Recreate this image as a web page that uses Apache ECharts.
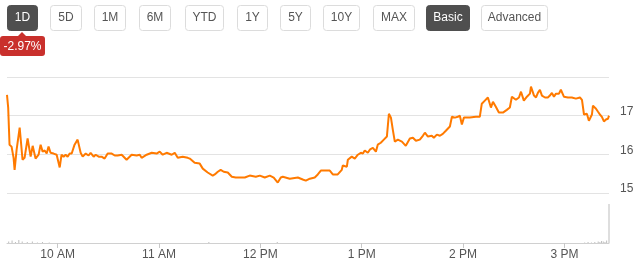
<!DOCTYPE html>
<html><head><meta charset="utf-8">
<script src="https://cdn.jsdelivr.net/npm/echarts@6/dist/echarts.min.js"></script>
<style>html,body{margin:0;padding:0;background:#fff}#c{width:640px;height:266px}</style>
</head><body><div id="c"></div>
<script>
// ---- data ----
const rangeButtons = ['1D','5D','1M','6M','YTD','1Y','5Y','10Y','MAX','Basic','Advanced'];
const activeButtons = ['1D','Basic'];
const changeLabel = '-2.97%';
const openMinute = 570;      // 9:30
const closeMinute = 926.4;   // last trade ~15:26
const hourTicks = [600,660,720,780,840,900];
const priceMin = 15, priceMax = 18, priceStep = 1;
// minutes after 9:30 open
const minutes = [0,0.7,1.5,2.7,3.9,4.5,5.7,7.5,9.2,10.4,12.2,14.0,15.2,16.9,18.7,19.9,21.1,22.3,23.5,24.6,25.8,27.6,29.4,31.2,32.3,33.5,34.7,35.9,37.1,38.3,40.0,41.8,43.6,44.8,46.6,48.3,49.5,51.3,52.5,54.3,56.0,57.8,59.6,62.0,63.8,65.5,67.9,70.8,73.8,76.8,78.6,79.7,82.7,85.7,88.6,90.4,92.2,94.5,97.5,99.3,101.1,104.0,107.0,108.2,111.1,114.1,115.9,118.8,121.8,123.0,124.8,126.5,128.3,130.7,133.1,135.4,137.8,140.8,143.7,147.3,149.7,152.6,155.6,157.9,160.3,162.1,163.3,167.4,172.2,175.1,176.9,179.3,182.2,184.0,185.8,188.1,191.1,192.9,195.8,198.2,198.8,201.2,201.8,202.9,204.1,205.9,207.7,209.5,210.7,211.8,213.6,214.8,216.6,218.4,219.5,221.3,223.1,224.9,226.1,227.3,228.4,229.6,231.4,233.8,236.1,238.5,240.3,242.1,244.4,246.2,247.4,249.2,251.5,252.7,254.5,256.3,258.0,259.8,262.2,263.4,265.2,266.9,268.1,269.3,270.5,274.0,277.6,279.9,281.1,282.9,284.7,286.5,287.7,289.4,291.2,293.6,295.9,297.7,298.9,301.3,303.1,304.3,306.0,307.8,309.6,310.2,312.0,313.2,314.3,315.5,316.7,318.5,320.2,321.4,322.6,323.8,325.0,326.8,327.9,328.5,329.7,332.1,334.4,336.8,339.2,340.4,341.6,343.3,344.5,345.1,346.3,346.9,348.7,349.9,351.0,352.2,353.4,354.6,355.8,356.4];
const prices = [17.54,17.21,16.25,16.20,15.91,15.60,16.12,16.69,15.86,15.91,16.41,15.94,16.22,15.89,15.99,16.25,16.07,16.10,16.02,16.20,16.04,16.02,15.99,15.66,15.99,15.94,15.99,15.94,16.02,16.02,16.25,16.38,16.04,15.94,16.02,15.97,16.04,15.94,15.99,15.94,15.94,15.89,16.02,16.02,15.97,15.97,15.99,15.86,15.99,15.97,15.99,15.91,15.99,16.04,16.02,16.07,15.99,16.04,15.99,16.04,15.91,15.94,15.91,15.89,15.78,15.76,15.63,15.53,15.45,15.48,15.55,15.60,15.55,15.53,15.42,15.40,15.40,15.40,15.45,15.42,15.45,15.40,15.45,15.40,15.27,15.40,15.42,15.37,15.40,15.35,15.32,15.37,15.40,15.48,15.58,15.58,15.58,15.48,15.48,15.60,15.71,15.68,15.86,15.84,15.94,15.89,15.99,16.04,16.02,16.10,16.04,16.12,16.17,16.07,16.25,16.30,16.38,16.46,17.05,16.95,16.64,16.33,16.38,16.33,16.22,16.41,16.43,16.35,16.38,16.48,16.56,16.46,16.48,16.43,16.51,16.48,16.53,16.61,16.72,16.97,16.95,16.97,17.00,16.77,16.95,16.95,16.97,16.97,17.31,17.39,17.47,17.21,17.36,17.23,17.08,17.08,17.15,17.21,17.49,17.41,17.47,17.62,17.39,17.49,17.57,17.75,17.52,17.47,17.59,17.67,17.52,17.47,17.47,17.52,17.59,17.49,17.57,17.57,17.67,17.72,17.49,17.47,17.47,17.44,17.47,17.41,17.03,17.05,16.87,16.82,17.03,17.26,17.18,17.10,17.03,16.97,16.85,16.90,16.92,17.00];
const volMinutes = [1,3,5,7,9,12,15,18,21,25,119.5,160,342,344,346,348,350,351,352,353,354,355,356.4];
const volumes = [3,5,2,6,3,2,3,1,2,1,2,2,1,2,1,2,3,2,4,3,2,5,78];

// ---- layout / style ----
const btnX = [7,50,94,139,185,237,280,323,373,426,481];
const btnW = [30,31,31,31,38,30,30,36,41,43,66];
const FONT = '"Liberation Sans", Arial, sans-serif';

const graphics = [];
rangeButtons.forEach((b, i) => {
  const active = activeButtons.includes(b);
  graphics.push({type:'rect', silent:true,
    shape:{x:btnX[i]+0.5, y:5.5, width:btnW[i], height:25, r:3},
    style:{fill: active ? '#4f4f4f' : '#fff', stroke: active ? '#4f4f4f' : '#dcdcdc', lineWidth:1}});
  graphics.push({type:'text', silent:true,
    style:{text:b, x:btnX[i]+btnW[i]/2+0.5, y:18, fill: active ? '#fff' : '#555',
      font:'12px ' + FONT, align:'center', verticalAlign:'middle'}});
});
graphics.push({type:'polygon', silent:true, shape:{points:[[17,37],[22,32],[27,37]]}, style:{fill:'#c9302c'}});
graphics.push({type:'rect', silent:true, shape:{x:0, y:36, width:45, height:20, r:3}, style:{fill:'#c9302c'}});
graphics.push({type:'text', silent:true, style:{text:changeLabel, x:22.5, y:46.5, fill:'#fff',
  font:'12px ' + FONT, align:'center', verticalAlign:'middle'}});

const chart = echarts.init(document.getElementById('c'), null, {renderer:'canvas'});
chart.setOption({
  animation:false,
  backgroundColor:'#fff',
  graphic: graphics,
  grid:[
    {left:7, right:31, top:77, height:116},
    {left:7, right:31, top:193, bottom:23}
  ],
  xAxis:[
    {type:'value', gridIndex:0, min:openMinute, max:closeMinute, show:false, splitLine:{show:false}},
    {type:'value', gridIndex:1, min:openMinute, max:closeMinute, splitLine:{show:false},
      axisLine:{show:true, lineStyle:{color:'#d0d0d0', width:1}},
      axisTick:{show:true, customValues:hourTicks, length:5, lineStyle:{color:'#c8c8c8'}},
      axisLabel:{customValues:hourTicks, color:'#555', fontSize:12, fontFamily:FONT, margin:6,
        formatter: v => { const h = Math.floor(v/60); const h12 = h > 12 ? h-12 : h; return h12 + (h >= 12 ? ' PM' : ' AM'); }}}
  ],
  yAxis:[
    {type:'value', gridIndex:0, position:'right', min:priceMin, max:priceMax, interval:priceStep,
      axisLine:{show:false}, axisTick:{show:false},
      splitLine:{show:true, lineStyle:{color:'#e3e3e3', width:1}},
      axisLabel:{color:'#555', fontSize:12, fontFamily:FONT, margin:11, align:'left', verticalAlign:'bottom',
        padding:[0,0,-2,0],
        formatter: v => v === priceMax ? '' : String(v)}},
    {type:'value', gridIndex:1, min:0, max:100, show:false, splitLine:{show:false}}
  ],
  series:[
    {type:'line', xAxisIndex:0, yAxisIndex:0, showSymbol:false, silent:true,
      data: minutes.map((m,i) => [openMinute + m, prices[i]]),
      lineStyle:{color:'#ff7a00', width:2}},
    {type:'bar', xAxisIndex:1, yAxisIndex:1, silent:true, barWidth:1,
      data: volMinutes.map((m,i) => [openMinute + m, volumes[i]]),
      itemStyle:{color:'#bdbdbd'}}
  ]
});
</script></body></html>
